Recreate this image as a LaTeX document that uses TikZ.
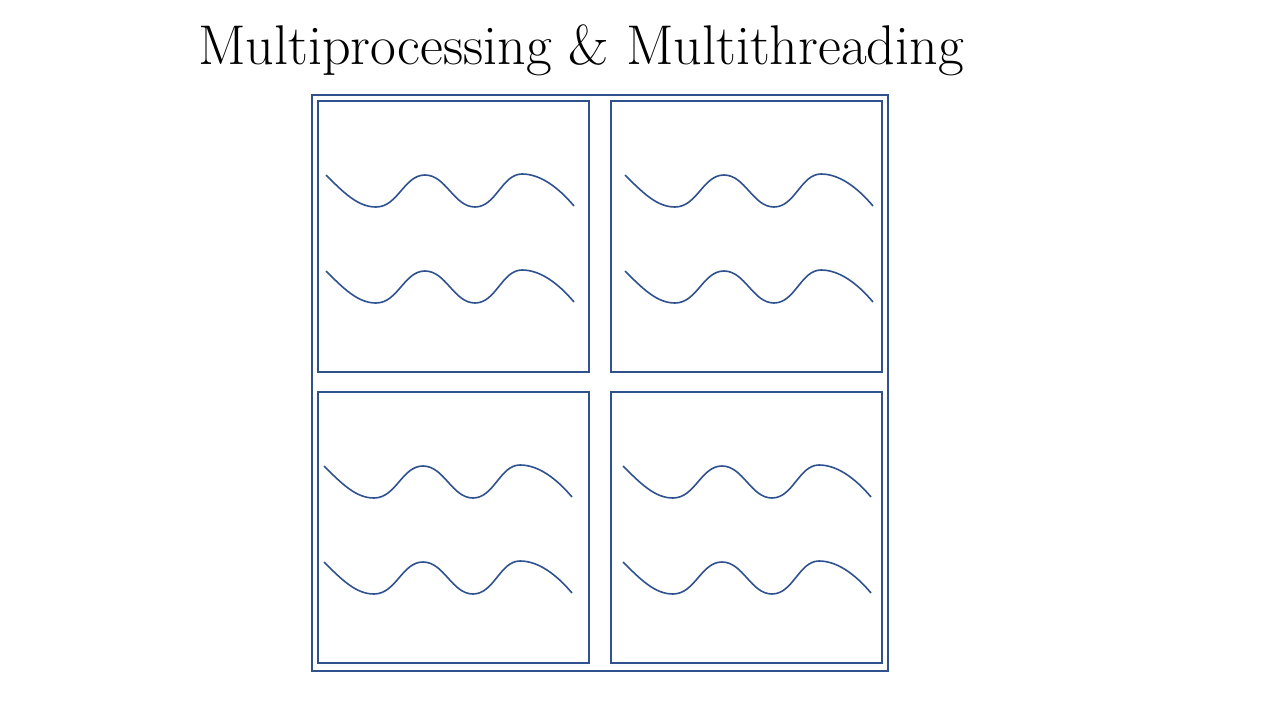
\documentclass[tikz,border=0pt]{standalone}
\definecolor{bl}{HTML}{2F528F}
\tikzset{box/.style={draw=bl,line width=1.4pt},wave/.style={draw=bl,line width=1.6pt}}
\newcommand{\wv}[2]{\draw[wave] (#1,#2) .. controls (#1+18,#2+18) and (#1+32,#2+32) .. (#1+50,#2+32) .. controls (#1+72,#2+32) and (#1+78,#2) .. (#1+99,#2) .. controls (#1+120,#2) and (#1+128,#2+32) .. (#1+149,#2+32) .. controls (#1+170,#2+32) and (#1+176,#2-1) .. (#1+196,#2-1) .. controls (#1+214,#2-1) and (#1+232,#2+12) .. (#1+248,#2+31);}
\begin{document}
\begin{tikzpicture}[x=1pt,y=-1pt]
\useasboundingbox (0,0) rectangle (1280,720);
\node (title) at (581,50) {\fontsize{56}{60}\selectfont Multiprocessing \& Multithreading};
\draw[box] (312,95) rectangle (888,671);
\foreach \x/\y/\o in {318/101/8,611/101/14,318/392/6,611/392/12}{
  \draw[box] (\x,\y) rectangle ++(271,271);
  \wv{\x+\o}{\y+74}
  \wv{\x+\o}{\y+170}
}
\end{tikzpicture}
\end{document}
